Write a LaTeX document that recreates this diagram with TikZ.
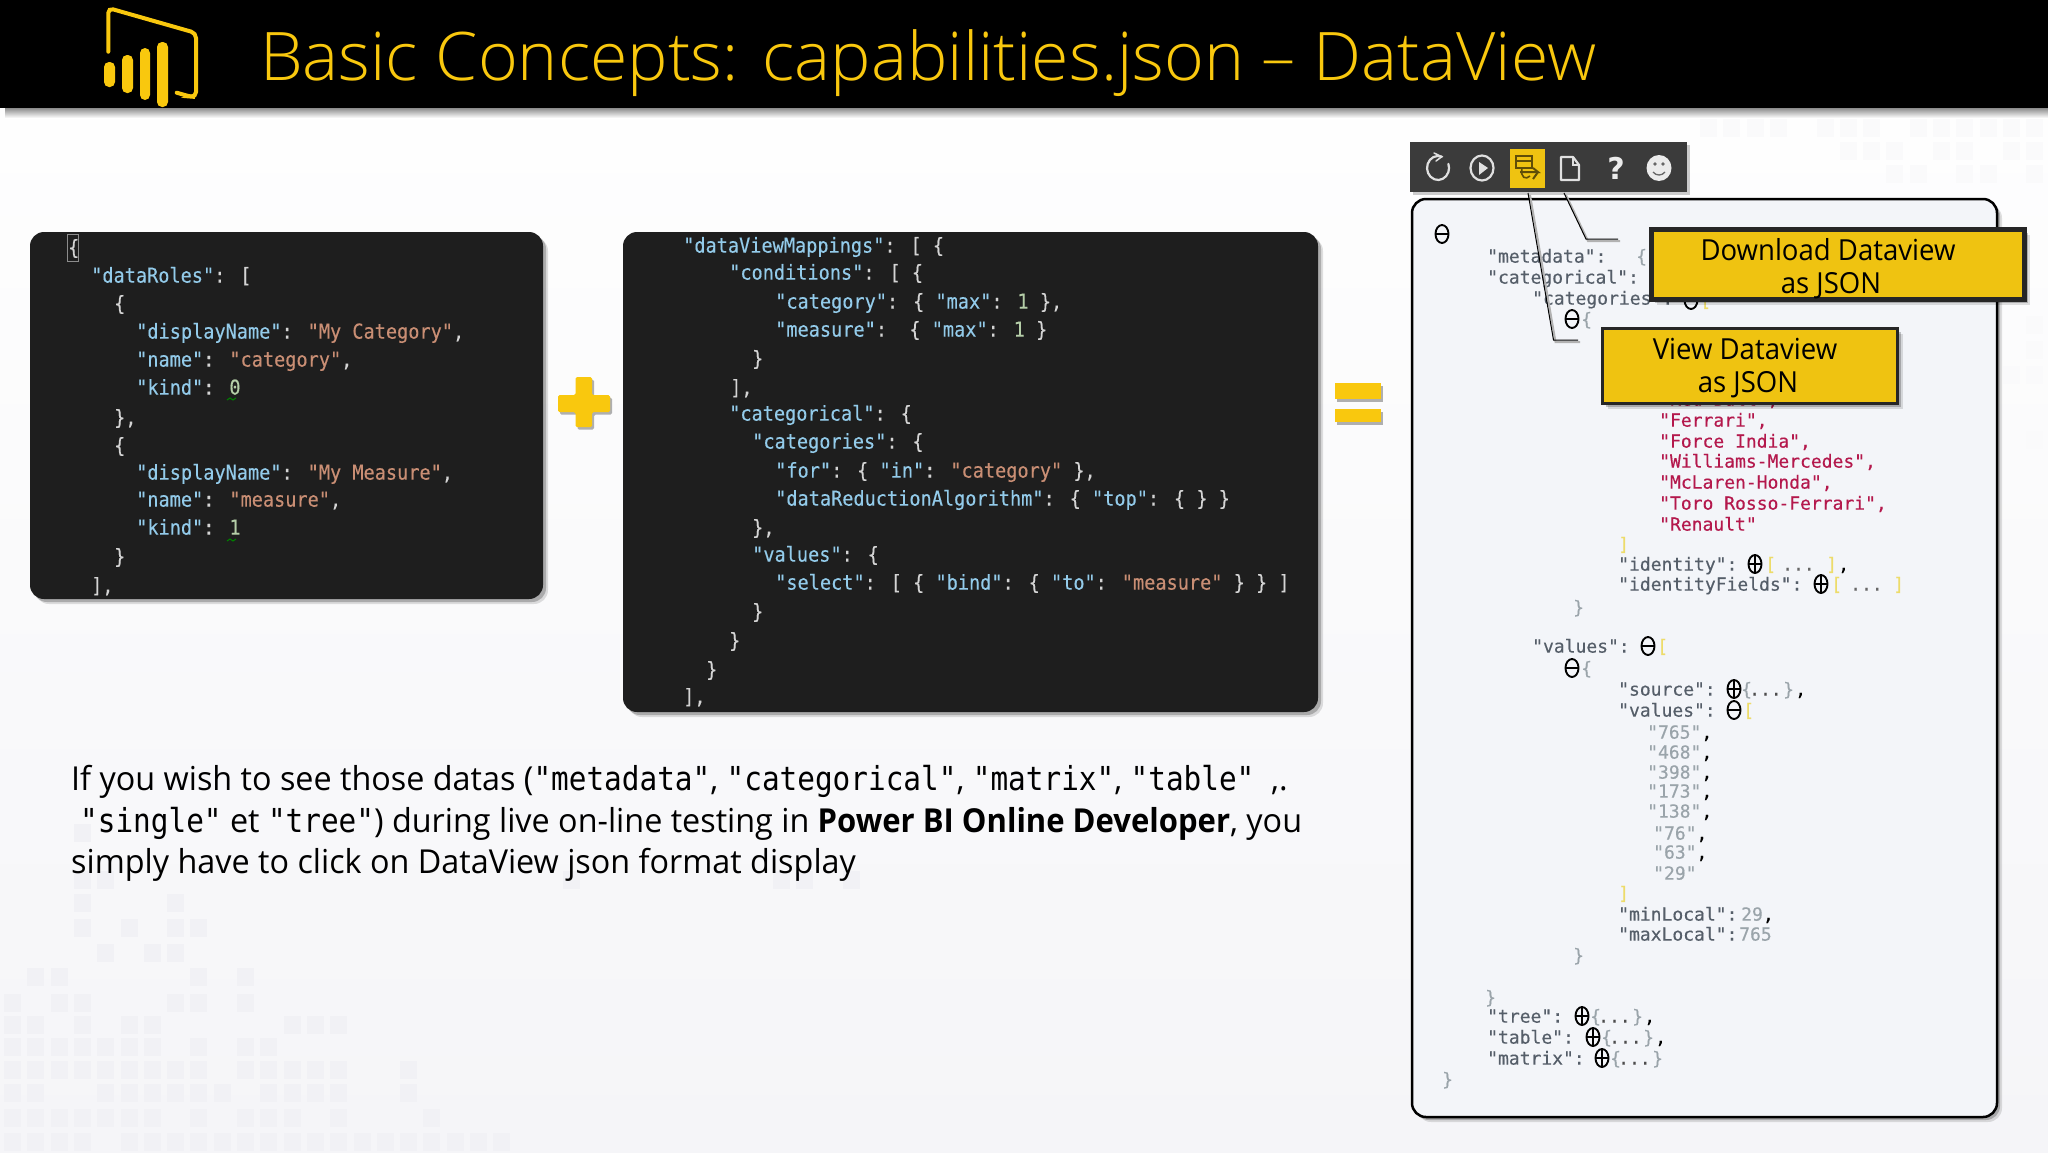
\documentclass[tikz,border=0pt]{standalone}
\usepackage{fontspec}
\usetikzlibrary{shadows,shapes.geometric}
\setmainfont{Open Sans}
\newfontfamily\titlefont[UprightFont=* Light,FakeStretch=1.015]{Open Sans}
\newfontfamily\bodyfont[FakeStretch=0.98]{Open Sans}
\newfontfamily\bodybold[UprightFont=* Bold,FakeStretch=0.94]{Open Sans}
\newfontfamily\calloutfont[FakeStretch=0.95]{Open Sans}
\newfontfamily\codefont[FakeStretch=0.906,FakeBold=0.25]{DejaVu Sans Mono}
\newfontfamily\bodymono[FakeStretch=0.89]{DejaVu Sans Mono}
\newfontfamily\jsonfont[FakeBold=0.4]{DejaVu Sans Mono}
\newfontfamily\symfont{DejaVu Sans}
\definecolor{gold}{HTML}{F9C80E}
\definecolor{btn}{HTML}{EFC311}
\definecolor{ckey}{HTML}{93CBEA}
\definecolor{cstr}{HTML}{C98E74}
\definecolor{cnum}{HTML}{B5CEA8}
\definecolor{cpun}{HTML}{D4D4D4}
\definecolor{jkey}{HTML}{555E69}
\definecolor{jred}{HTML}{B4184C}
\definecolor{jval}{HTML}{9AA4AA}
\definecolor{jyel}{HTML}{EDDC6A}
\definecolor{tile}{HTML}{F1F1F5}
\definecolor{tileb}{HTML}{FAFAFB}
\definecolor{bgtop}{HTML}{FFFFFF}
\definecolor{bgmid}{HTML}{FAFAFB}
\definecolor{bgbot}{HTML}{F5F5F8}
\definecolor{jsonbg}{HTML}{F3F5F9}
\definecolor{darkbg}{HTML}{1E1E1E}
\newcommand\jk[1]{\textcolor{ckey}{#1}}
\newcommand\jv[1]{\textcolor{cstr}{#1}}
\newcommand\jn[1]{\textcolor{cnum}{#1}}
\newcounter{tokc}
\newcommand\dk[3]{\stepcounter{tokc}\node[dktxt,name=dk\arabic{tokc}] at (#1,#2+4) {#3};}
\newcommand\jt[4][jkey]{\stepcounter{tokc}\node[jtxt,text=#1,name=jt\arabic{tokc}] at (#2,#3+4) {#4};}
\newcommand\icm[2]{\draw[icon] (#1,#2) ellipse (6.5pt and 9pt); \draw[line width=2.4pt] (#1-6.5,#2) -- (#1+6.5,#2);}
\newcommand\icp[2]{\draw[icon] (#1,#2) ellipse (6.5pt and 9pt); \draw[line width=2.4pt] (#1-6.5,#2) -- (#1+6.5,#2); \draw[line width=2.4pt] (#1,#2-9) -- (#1,#2+9);}
\tikzset{
  dktxt/.style={anchor=west,inner sep=0pt,text=cpun,text height=.72em,text depth=.2em,font=\codefont\fontsize{20.5}{24}\selectfont},
  jtxt/.style={anchor=west,inner sep=0pt,text height=.72em,text depth=.2em,font=\jsonfont\fontsize{18}{22}\selectfont},
  bodyline/.style={anchor=base west,inner sep=0pt,text=black,font=\bodyfont\fontsize{33}{40}\selectfont},
  calltxt/.style={inner sep=0pt,text=black,font=\calloutfont\fontsize{29}{36}\selectfont},
  icon/.style={line width=1.9pt,draw=black},
  softsh/.style={general shadow={fill=black,opacity=.12,shadow xshift=5pt,shadow yshift=-5pt},
                 general shadow={fill=black,opacity=.22,shadow xshift=3pt,shadow yshift=-3pt}},
  darkpanel/.style={rounded corners=14pt,fill=darkbg,inner sep=0pt,softsh},
  callout/.style={fill=btn,inner sep=0pt,softsh},
  leader/.style={draw=black,line width=1pt},
  leadersh/.style={draw=black!30,line width=2pt},
  tbicon/.style={draw=white!88!black,line width=2.2pt,line cap=round}
}
\begin{document}
\begin{tikzpicture}[x=1pt,y=-1pt]
\useasboundingbox (0,0) rectangle (2048,1152);
% background
\shade[top color=bgtop,bottom color=bgbot,middle color=bgmid] (0,0) rectangle (2048,1152);
% faint tiles
\foreach \yy/\cols in {833/{3},880/{3,4,24,33,34,36},903/{3,7},928/{3,5,7,8},953/{4,6,7},977/{1,2,8,10},1003/{0,2,3,7,8,10},1025/{0,1,3,5,6,12,13,14},1047/{0,1,2,3,4,5,6,8,10,11},1070/{0,1,2,3,4,5,6,7,8,10,11,12,13,14,17},1093/{0,1,4,5,6,7,8,9,11,12,13,14,17},1118/{0,1,2,3,4,5,6,8,10,11,12,14,18},1142/{0,1,2,3,5,6,7,8,9,10,11,12,13,14,15,16,17,18,19,20,21}}{
  \foreach \cc in \cols { \fill[tile] (4+23.3*\cc,\yy-9) rectangle ++(17,18); }
}
\foreach \yy/\cols in {128/{0,1,2,3,5,6,7,9,10,11,12,13,14},151/{6,7,8,10,11,13,14},174/{8,9,11,12,14},325/{14},350/{14},375/{13,14},440/{14}}{
  \foreach \cc in \cols { \fill[tileb] (1700+23.3*\cc,\yy-9) rectangle ++(17,18); }
}
% header
\shade[top color=black!45,bottom color=bgtop] (5,108) rectangle (2048,118);
\fill[black] (0,0) rectangle (2048,108);
\draw[gold,line width=4pt,rounded corners=5pt,line cap=round] (108.3,51.7) -- (108.3,8) -- (196,33) -- (196,97) -- (190,96.5) -- (176.7,92.7);
\foreach \xa/\xb/\ya/\yb in {104/115/62/87,122/133/55/93,140/150/48/100,157/168/42/107}{
  \fill[gold,rounded corners=5pt] (\xa,\ya) rectangle (\xb,\yb);
}
\node[anchor=base west,inner sep=0pt,text=gold,font=\titlefont\fontsize{67}{80}\selectfont] (title) at (260,80) {Basic Concepts: capabilities.json – DataView};
% left panel
\node[darkpanel,minimum width=513pt,minimum height=367pt] (p1) at (286.5,415.5) {};
\draw[black!45,line width=.8pt] (67,234) rectangle (78,261);
\dk{68}{248}{\{}
\dk{91}{276}{\jk{"dataRoles"}: [}
\dk{114}{304}{\{}
\dk{136}{332}{\jk{"displayName"}: \jv{"My Category"},}
\dk{136}{360}{\jk{"name"}: \jv{"category"},}
\dk{136}{388}{\jk{"kind"}: \jn{0}}
\dk{114}{418}{\},}
\dk{114}{446}{\{}
\dk{136}{473}{\jk{"displayName"}: \jv{"My Measure"},}
\dk{136}{500}{\jk{"name"}: \jv{"measure"},}
\dk{136}{528}{\jk{"kind"}: \jn{1}}
\dk{114}{557}{\}}
\dk{91}{586}{],}
\draw[green!50!black,line width=1pt] (227,400) -- (230,398) -- (233,400) -- (236,398);
\draw[green!50!black,line width=1pt] (227,541) -- (230,539) -- (233,541) -- (236,539);
% plus
\path[fill=gold,general shadow={fill=black,opacity=.3,shadow xshift=2pt,shadow yshift=-2.5pt},rounded corners=1.5pt] (575.5,377) -- (592,377) -- (592,395) -- (610,395) -- (610,412) -- (592,412) -- (592,427) -- (575.5,427) -- (575.5,412) -- (558,412) -- (558,395) -- (575.5,395) -- cycle;
% middle panel
\node[darkpanel,minimum width=695pt,minimum height=480pt] (p2) at (970.5,472) {};
\dk{683}{246}{\jk{"dataViewMappings"}: [ \{}
\dk{729}{273}{\jk{"conditions"}: [ \{}
\dk{775}{302}{\jk{"category"}: \{ \jk{"max"}: \jn{1} \},}
\dk{775}{330}{\jk{"measure"}:\ \ \{ \jk{"max"}: \jn{1} \}}
\dk{752}{359}{\}}
\dk{730}{388}{],}
\dk{729}{414}{\jk{"categorical"}: \{}
\dk{752}{442}{\jk{"categories"}: \{}
\dk{775}{471}{\jk{"for"}: \{ \jk{"in"}: \jv{"category"} \},}
\dk{775}{499}{\jk{"dataReductionAlgorithm"}: \{ \jk{"top"}: \{ \} \}}
\dk{752}{528}{\},}
\dk{752}{555}{\jk{"values"}: \{}
\dk{775}{583}{\jk{"select"}: [ \{ \jk{"bind"}: \{ \jk{"to"}: \jv{"measure"} \} \} ]}
\dk{752}{612}{\}}
\dk{729}{641}{\}}
\dk{706}{670}{\}}
\dk{683}{697}{],}
% equals
\fill[gold,general shadow={fill=black,opacity=.3,shadow xshift=2pt,shadow yshift=-3pt}] (1335,383) rectangle (1381,399);
\fill[gold,general shadow={fill=black,opacity=.3,shadow xshift=2pt,shadow yshift=-3pt}] (1335,409) rectangle (1381,422);
% body text
\node[bodyline] (l1) at (71,790) {If you wish to see those datas ({\bodymono"metadata"}, {\bodymono"categorical"}, {\bodymono"matrix"}, {\bodymono"table"}\ \ ,.};
\node[bodyline] (l2) at (80,832) {{\bodymono"single"} et {\bodymono"tree"}) during live on-line testing in {\bodybold Power BI Online Developer}, you};
\node[bodyline] (l3) at (71,873) {simply have to click on DataView json format display};
% json panel
\node[draw=black,line width=2.5pt,rounded corners=14pt,fill=jsonbg,inner sep=0pt,minimum width=585pt,minimum height=918pt,softsh] (p3) at (1704.5,658) {};
\icm{1442}{234}
\jt{1487}{256}{"metadata":}
\jt[jval]{1636}{256}{\{}
\jt{1487}{277}{"categorical":}
\jt{1532}{298}{"categories":}
\icm{1691}{300}
\jt[jyel]{1700}{300}{[}
\icm{1572}{319}
\jt[jval]{1581}{319}{\{}
\jt[jred]{1659}{399}{"Red Bull",}
\jt[jred]{1659}{420}{"Ferrari",}
\jt[jred]{1659}{441}{"Force India",}
\jt[jred]{1659}{461}{"Williams-Mercedes",}
\jt[jred]{1659}{482}{"McLaren-Honda",}
\jt[jred]{1659}{503}{"Toro Rosso-Ferrari",}
\jt[jred]{1659}{524}{"Renault"}
\jt[jyel]{1618}{544}{]}
\jt{1618}{564}{"identity":}
\icp{1755}{564}
\jt[jyel]{1765}{564}{[}
\jt[black!60]{1782}{564}{...}
\jt[jyel]{1826}{564}{]}
\jt[black]{1838}{564}{,}
\jt{1618}{584}{"identityFields":}
\icp{1821}{584}
\jt[jyel]{1831}{584}{[}
\jt[black!60]{1850}{584}{...}
\jt[jyel]{1893}{584}{]}
\jt[jval]{1573}{607}{\}}
\jt{1532}{646}{"values":}
\icm{1648}{646}
\jt[jyel]{1657}{646}{[}
\icm{1572}{668}
\jt[jval]{1581}{668}{\{}
\jt{1618}{689}{"source":}
\icp{1734}{689}
\jt[jval]{1741}{689}{\{}
\jt[black!70]{1749}{689}{...}
\jt[jval]{1783}{689}{\}}
\jt[black]{1795}{689}{,}
\jt{1618}{710}{"values":}
\icm{1734}{710}
\jt[jyel]{1743}{710}{[}
\foreach \tx/\ty/\tv/\cm in {1647/732/765/{,},1647/752/468/{,},1647/772/398/{,},1647/791/173/{,},1647/811/138/{,},1653/833/76/{,},1653/852/63/{,},1653/873/29/{}}{
  \node[jtxt,anchor=west] at (\tx,\ty+4) {\textcolor{jval}{"\tv"}\textcolor{black}{\cm}};
}
\jt[jyel]{1618}{893}{]}
\jt{1618}{914}{"minLocal":}
\jt[jval]{1741}{914}{29\textcolor{black}{,}}
\jt{1618}{934}{"maxLocal":}
\jt[jval]{1739}{934}{765}
\jt[jval]{1573}{955}{\}}
\jt[jval]{1485}{997}{\}}
\jt{1487}{1016}{"tree":}
\icp{1582}{1016}
\jt[jval]{1590}{1016}{\{}
\jt[black!70]{1598}{1016}{...}
\jt[jval]{1632}{1016}{\}}
\jt[black]{1644}{1016}{,}
\jt{1487}{1037}{"table":}
\icp{1593}{1037}
\jt[jval]{1601}{1037}{\{}
\jt[black!70]{1609}{1037}{...}
\jt[jval]{1643}{1037}{\}}
\jt[black]{1655}{1037}{,}
\jt{1487}{1058}{"matrix":}
\icp{1602}{1058}
\jt[jval]{1610}{1058}{\{}
\jt[black!70]{1618}{1058}{...}
\jt[jval]{1652}{1058}{\}}
\jt[jval]{1442}{1079}{\}}
% toolbar
\node[fill=black!77,inner sep=0pt,minimum width=277pt,minimum height=50pt,general shadow={fill=black,opacity=.2,shadow xshift=3pt,shadow yshift=-3pt}] (tb) at (1548.5,167) {};
\node[fill=btn,inner sep=0pt,minimum width=35pt,minimum height=39pt] (tbv) at (1527.5,168.5) {};
\draw[tbicon] (1441.8,156.7) arc[start angle=70,end angle=380,x radius=11pt,y radius=12pt];
\draw[tbicon,line width=1.5pt] (1434,153) -- (1441.8,156.7) -- (1436,161);
\draw[tbicon] (1482,168) ellipse (11.5pt and 12.5pt);
\fill[white!88!black] (1479,162) -- (1488,168) -- (1479,175) -- cycle;
\draw[black!60!btn,line width=2pt] (1516,156) rectangle (1532,168);
\draw[black!60!btn,line width=2pt] (1516,161) -- (1532,161);
\draw[black!60!btn,line width=2pt] (1520,172) -- (1538,172) -- (1533,168);
\draw[black!60!btn,line width=2pt] (1538,172) -- (1533,179);
\draw[black!60!btn,line width=1.6pt] (1522,168) .. controls (1520,178) and (1526,180) .. (1530,176);
\draw[tbicon,line join=round] (1561,180) -- (1561,157) -- (1573,157) -- (1579,165) -- (1579,180) -- cycle;
\draw[tbicon,line width=1.4pt] (1573,157) -- (1573,165) -- (1579,165);
\node[inner sep=0pt,text=white!92!black,font=\symfont\bfseries\fontsize{30}{34}\selectfont] (qm) at (1616,168) {?};
\fill[white!92!black] (1659,168) ellipse (12.5pt and 13pt);
\fill[black!60] (1655,164) circle (1.8pt) (1663,164) circle (1.8pt);
\draw[black!60,line width=1.3pt] (1653,172) .. controls (1656,176) and (1662,176) .. (1665,172);
% leaders
\coordinate (dlA) at (1564,193); \coordinate (dlB) at (1586,239); \coordinate (dlC) at (1618,239);
\coordinate (vwA) at (1528,193); \coordinate (vwB) at (1553.5,340); \coordinate (vwC) at (1578,340);
\draw[leadersh] ([shift={(2pt,-2pt)}]dlA) -- ([shift={(2pt,-2pt)}]dlB) -- ([shift={(2pt,-2pt)}]dlC);
\draw[leadersh] ([shift={(2pt,-2pt)}]vwA) -- ([shift={(2pt,-2pt)}]vwB) -- ([shift={(2pt,-2pt)}]vwC);
\draw[leader] (dlA) -- (dlB) -- (dlC);
\draw[leader] (vwA) -- (vwB) -- (vwC);
% callouts
\node[callout,draw=black!85,line width=5pt,minimum width=373pt,minimum height=70pt] (dl) at (1838,264.5) {};
\node[calltxt] (dlt1) at (1828,250) {Download Dataview};
\node[calltxt] (dlt2) at (1831,286) {as JSON};
\node[callout,draw=black!85,line width=3pt,minimum width=295pt,minimum height=75pt] (vw) at (1750,366) {};
\node[calltxt] (vwt1) at (1745,349) {View Dataview};
\node[calltxt] (vwt2) at (1748,385) {as JSON};
\end{tikzpicture}
\end{document}
